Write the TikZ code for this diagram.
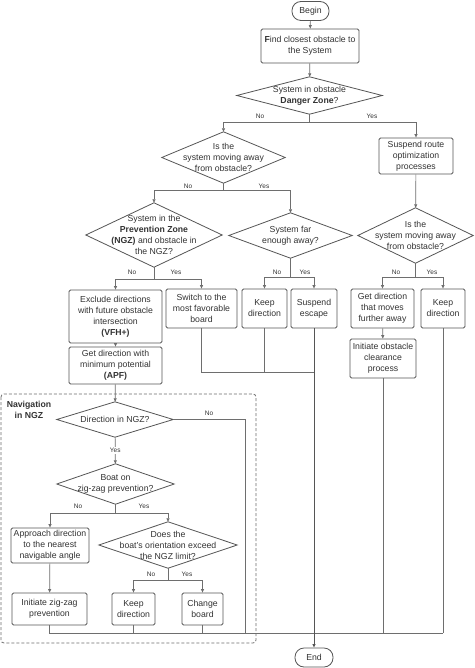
\documentclass[tikz,border=0pt]{standalone}
\usepackage{fontspec}
\setmainfont{Liberation Sans}
\usetikzlibrary{arrows.meta}
\definecolor{txt}{HTML}{333333}
\definecolor{bord}{HTML}{555555}
\definecolor{lc}{HTML}{6E6E6E}
\begin{document}
\begin{tikzpicture}[x=1pt,y=-1pt,
  every node/.style={font=\fontsize{8.7}{11}\selectfont, text=txt, align=center, inner sep=0pt},
  box/.style n args={2}{draw=bord, line width=0.8pt, rounded corners=1.5pt, minimum width=#1, minimum height=#2},
  term/.style n args={2}{draw=bord, line width=0.8pt, rounded corners=9pt, minimum width=#1, minimum height=#2},
  dia/.style n args={2}{minimum width=#1, minimum height=#2},
  diab/.style={draw=bord, line width=0.8pt, line join=miter},
  lab/.style={font=\fontsize{6.5}{8}\selectfont, text=txt},
  ln/.style={draw=lc, line width=0.7pt},
  arr/.style={ln, -{Triangle[length=3.5pt,width=3pt]}},
  frame/.style={draw=lc, line width=0.8pt, dash pattern=on 3pt off 2pt, rounded corners=3pt}
]
\fill[white] (0,0) rectangle (474,668);
\useasboundingbox (0,0) rectangle (474,668);

% nodes
\node[term={37pt}{19pt}] (begin) at (310.5,11) {Begin};
\node[box={98pt}{34pt}] (find) at (310,46) {\textbf{F}ind closest obstacle to\\the System};
\node[dia={145pt}{37pt}] (d1) at (309.5,95.5) {System in obstacle\\\textbf{Danger Zone}?};
\node[dia={123pt}{51pt}] (d2) at (223.5,157.5) {Is the\\system moving away\\from obstacle?};
\node[box={74pt}{36pt}] (sus) at (416,156) {Suspend route\\optimization\\processes};
\node[dia={115pt}{55pt}] (d5) at (415.5,235.5) {Is the\\system moving away\\from obstacle?};
\node[dia={136pt}{64pt}] (d3) at (154,235) {System in the\\\textbf{Prevention Zone}\\\textbf{(NGZ)} and obstacle in\\the NGZ?};
\node[dia={123pt}{45pt}] (d4) at (290.5,235.5) {System far\\enough away?};
\node[box={93pt}{53pt}] (vfh) at (115.5,316.5) {Exclude directions\\with future obstacle\\intersection\\\textbf{(VFH+)}};
\node[box={71pt}{39pt}] (sw) at (201.5,308.5) {Switch to the\\most favorable\\board};
\node[box={93pt}{37pt}] (apf) at (115.5,365.5) {Get direction with\\minimum potential\\\textbf{(APF)}};
\node[box={45pt}{39pt}] (kd1) at (264.5,308.5) {Keep\\direction};
\node[box={46pt}{39pt}] (se) at (314,308.5) {Suspend\\escape};
\node[box={63pt}{39pt}] (gd) at (382.5,308.5) {Get direction\\that moves\\further away};
\node[box={44pt}{39pt}] (kd2) at (443,308.5) {Keep\\direction};
\node[box={66pt}{39pt}] (ioc) at (383,358.5) {Initiate obstacle\\clearance\\process};
\node[dia={116pt}{35pt}] (dn) at (115,419.5) {Direction in NGZ?};
\node[dia={117pt}{40pt}] (boat) at (115.5,484) {Boat on\\zig-zag prevention?};
\node[box={78pt}{35pt}] (appr) at (50,545.5) {Approach direction\\to the nearest\\navigable angle};
\node[dia={138pt}{46pt}] (dd) at (168,545) {Does the\\boat's orientation exceed\\the NGZ limit?};
\node[box={75pt}{32pt}] (izz) at (49.5,609) {Initiate zig-zag\\prevention};
\node[box={43pt}{32pt}] (kd3) at (133.5,609) {Keep\\direction};
\node[box={41pt}{32pt}] (cb) at (202.5,609) {Change\\board};
\node[term={38pt}{19pt}] (end) at (314,657.5) {End};
\node[font=\bfseries\fontsize{8.7}{10.5}\selectfont] (nav) at (29,410) {Navigation\\in NGZ};

\foreach \n in {d1,d2,d3,d4,d5,dn,boat,dd}
  \draw[diab] (\n.north) -- (\n.east) -- (\n.south) -- (\n.west) -- cycle;

% frame
\draw[frame] (1,394) rectangle (256,643);

% connectors
\draw[arr] (begin) -- (find);
\draw[arr] (find) -- (d1);
\draw[arr] (d1.south) -- ++(0,8) -| (d2.north);
\draw[arr] (d1.south) -- ++(0,8) -| (sus.north);
\draw[arr] (d2.south) -- ++(0,7) -| (d3.north);
\draw[arr] (d2.south) -- ++(0,7) -| (d4.north);
\draw[arr] (sus) -- (d5);
\draw[arr] (d3.south) -- ++(0,12) -| (vfh.north);
\draw[arr] (d3.south) -- ++(0,12) -| (sw.north);
\draw[arr] (d4.south) -- ++(0,19) -| (kd1.north);
\draw[arr] (d4.south) -- ++(0,19) -| (se.north);
\draw[arr] (d5.south) -- ++(0,14) -| (gd.north);
\draw[arr] (d5.south) -- ++(0,14) -| (kd2.north);
\draw[arr] (vfh) -- (apf);
\draw[arr] (gd) -- (ioc);
\draw[arr] (apf) -- (dn);
\coordinate (cN) at (245,633);
\coordinate (bl) at (49.5,633);
\coordinate (br) at (443,633);
\coordinate (mj) at (314,372);
\draw[ln] (dn.east) -| (cN);
\draw[arr] (dn) -- node[lab, fill=white, inner sep=1pt] (ly) {Yes} (boat);
\draw[arr] (boat.south) -- ++(0,9) -| (appr.north);
\draw[arr] (boat.south) -- ++(0,9) -| (dd.north);
\draw[arr] (appr) -- (izz);
\draw[arr] (dd.south) -- ++(0,12) -| (kd3.north);
\draw[arr] (dd.south) -- ++(0,12) -| (cb.north);
\draw[ln] (izz.south) -- (bl) -- (br);
\draw[ln] (kd3.south) -- (kd3.south |- bl);
\draw[ln] (cb.south) -- (cb.south |- bl);
\draw[ln] (ioc.south) -- (ioc.south |- bl);
\draw[ln] (kd2.south) -- (br);
\draw[ln] (sw.south) |- (mj);
\draw[ln] (kd1.south) -- (kd1.south |- mj);
\draw[arr, draw=bord, line width=0.9pt] (se) -- (end);

% labels
\node[lab] (l1) at (260,116) {No};
\node[lab] (l2) at (372,116) {Yes};
\node[lab] (l3) at (188,186) {No};
\node[lab] (l4) at (264,186) {Yes};
\node[lab] (l5) at (132,272) {No};
\node[lab] (l6) at (176,272) {Yes};
\node[lab] (l7) at (277,272) {No};
\node[lab] (l8) at (305,272) {Yes};
\node[lab] (l9) at (396,272) {No};
\node[lab] (l10) at (432,272) {Yes};
\node[lab] (l11) at (209,413) {No};
\node[lab] (l12) at (78,506) {No};
\node[lab] (l13) at (144,506) {Yes};
\node[lab] (l14) at (151,574) {No};
\node[lab] (l15) at (187,574) {Yes};
\end{tikzpicture}
\end{document}
